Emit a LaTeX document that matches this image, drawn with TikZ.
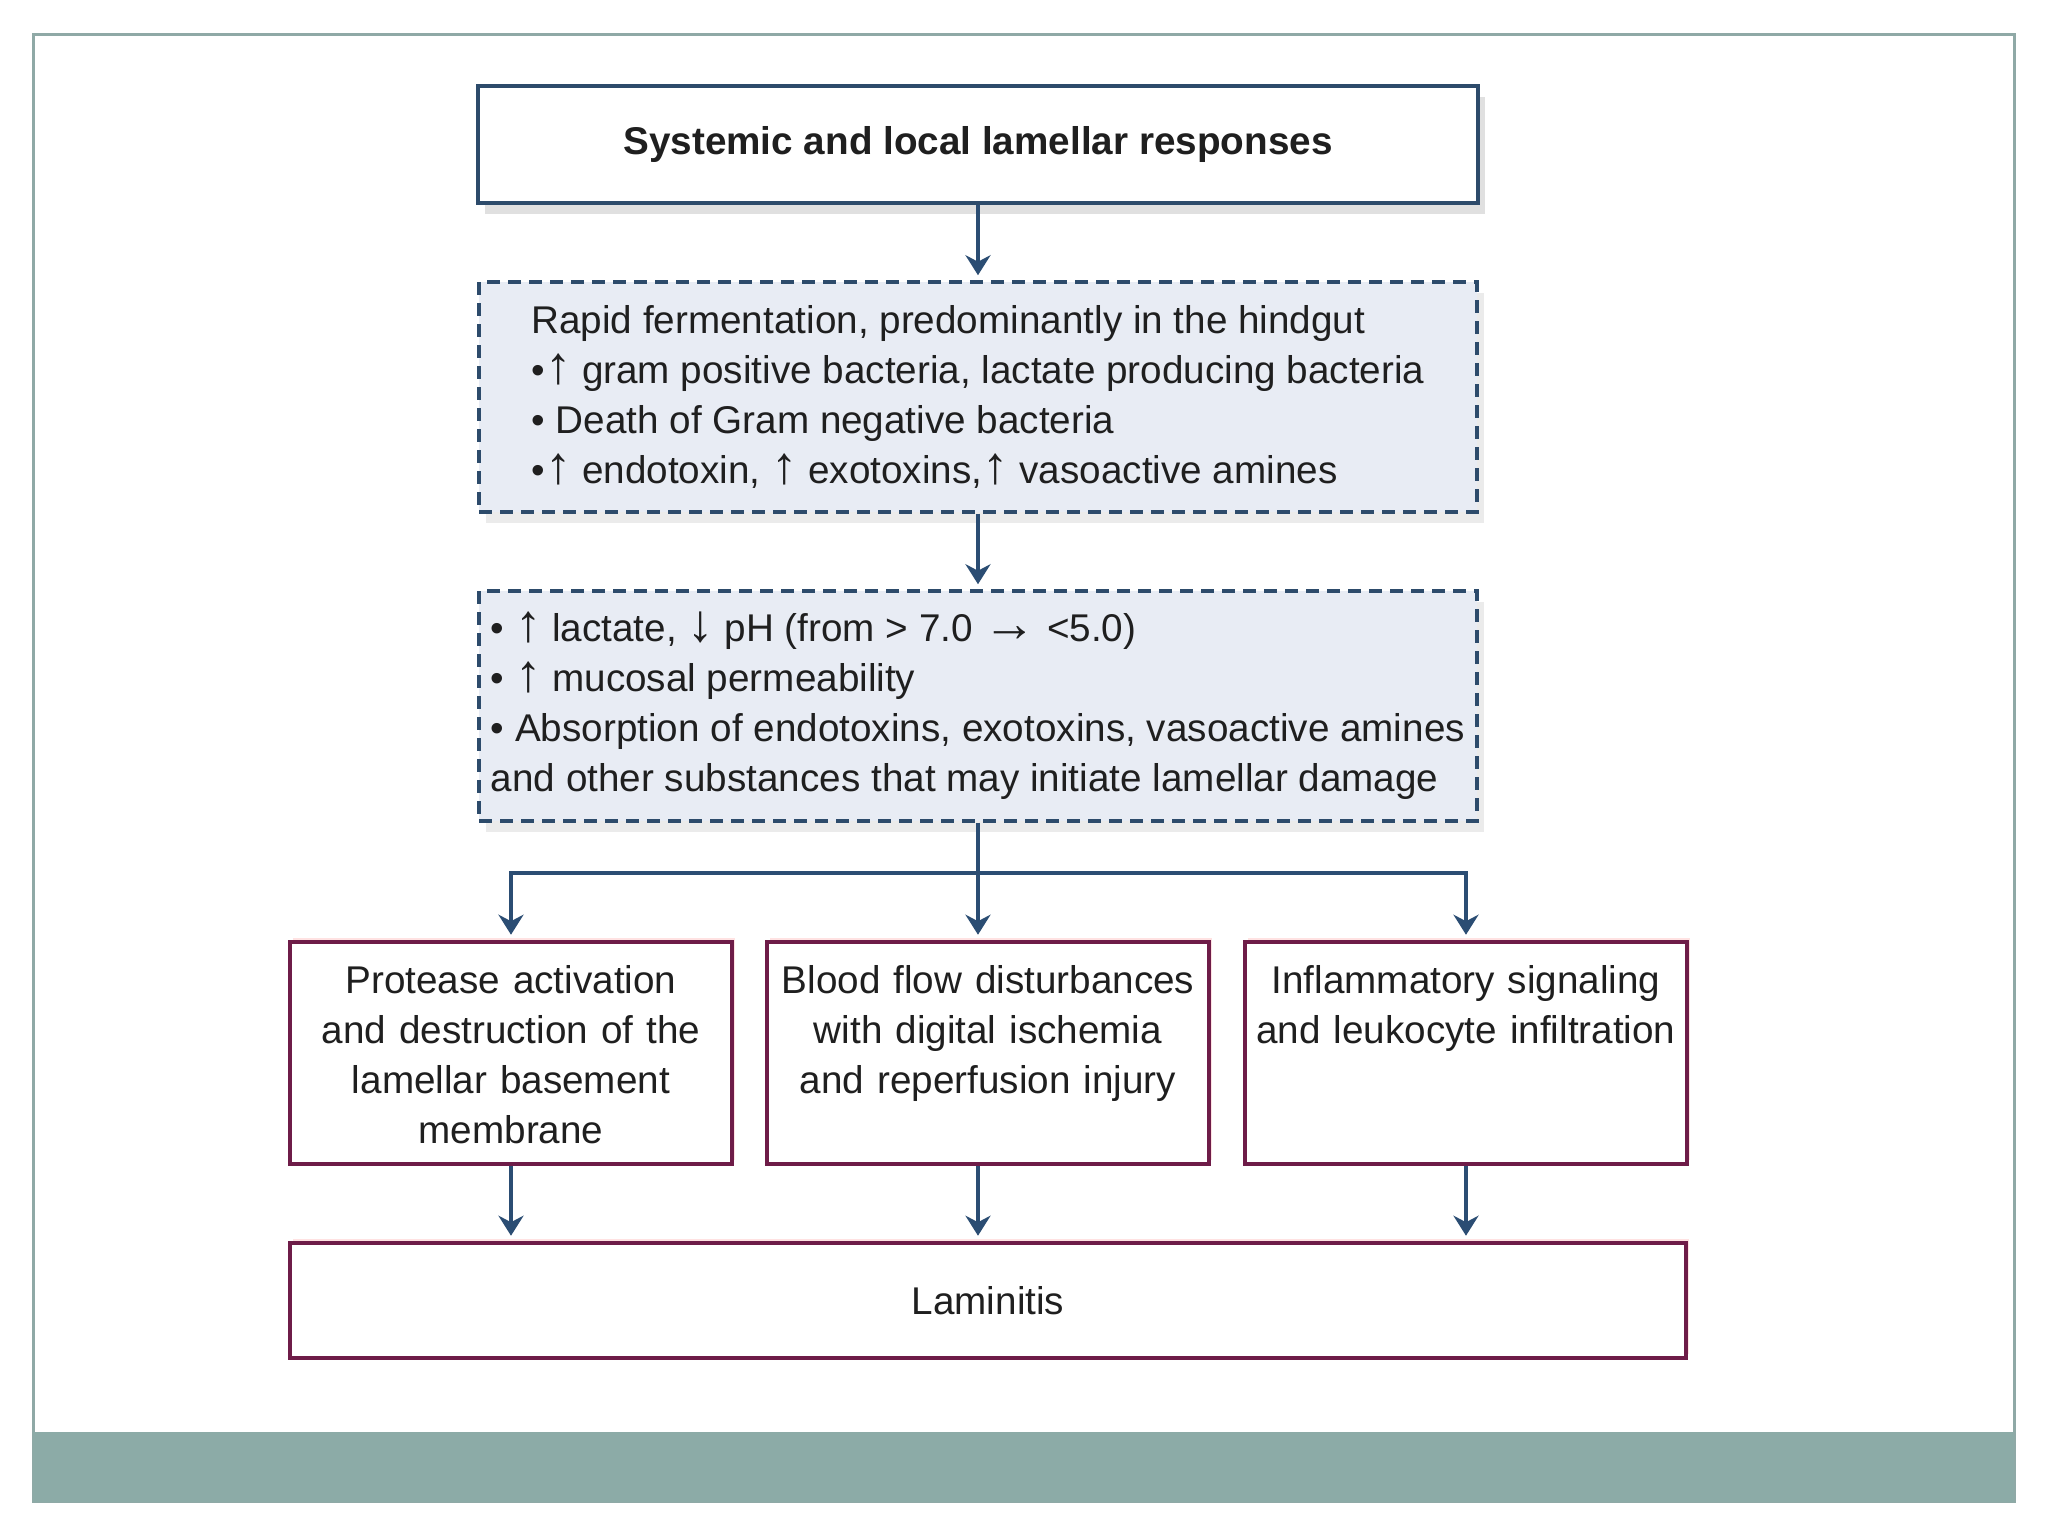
\documentclass[tikz,border=0pt]{standalone}
\usepackage{fontspec}
\setmainfont{Liberation Sans}
\usetikzlibrary{shapes.geometric, arrows.meta, shadows}
\definecolor{boxblue}{HTML}{2D4B6B}
\definecolor{arrowblue}{HTML}{2B4D73}
\definecolor{dashfill}{HTML}{E8ECF4}
\definecolor{effectred}{HTML}{6E1C48}
\definecolor{framegray}{HTML}{8FA9A6}
\definecolor{bandteal}{HTML}{8CABA7}
\definecolor{txt}{HTML}{1F1F1F}
\newcommand{\boxfont}{\fontsize{11}{14.23}\selectfont}
\newcommand{\up}{{\fontsize{15}{14.23}\selectfont ↑}}
\newcommand{\down}{{\fontsize{15}{14.23}\selectfont ↓}}
\newcommand{\goesto}{{\fontsize{15}{14.23}\selectfont →}}
\tikzstyle{headbox} = [rectangle, 
minimum width=10.0cm, 
minimum height=1.17cm,
text centered, 
draw=boxblue, line width=0.045cm,
fill=white, text=txt,
font=\boxfont\bfseries,
drop shadow={shadow xshift=0.07cm, shadow yshift=-0.11cm, fill=black!12, opacity=1}]
\tikzstyle{dashbox} = [rectangle, 
minimum width=9.98cm, 
minimum height=2.30cm,
align=left, 
draw=boxblue, line width=0.035cm,
dash pattern=on 0.13cm off 0.08cm,
fill=dashfill, text=txt,
font=\boxfont,
drop shadow={shadow xshift=0.07cm, shadow yshift=-0.11cm, fill=black!8, opacity=1}]
\tikzstyle{effect} = [rectangle, 
minimum width=4.42cm, 
minimum height=2.22cm,
text width=4.3cm, align=center,
inner xsep=0.06cm, inner ysep=0.21cm,
text height=0.30cm, text depth=1.49cm,
draw=effectred, line width=0.045cm,
fill=white, text=txt,
font=\boxfont,
drop shadow={shadow xshift=0.03cm, shadow yshift=0.04cm, fill=pink!45, opacity=1}]
\tikzstyle{outcome} = [rectangle, 
minimum width=13.96cm, 
minimum height=1.15cm,
text centered, 
draw=effectred, line width=0.045cm,
fill=white, text=txt,
font=\boxfont,
drop shadow={shadow xshift=0.03cm, shadow yshift=0.04cm, fill=pink!45, opacity=1}]
\tikzstyle{coord} = [coordinate]
\tikzstyle{line} = [line width=0.04cm, draw=arrowblue]
\tikzstyle{arrow} = [line, -{Stealth[length=0.2cm, width=0.25cm]}, shorten >=0.05cm]

\begin{document}
\begin{tikzpicture}
		\useasboundingbox (0,0) rectangle (20.48,15.36);
		\fill [white] (0,0) rectangle (20.48,15.36);
		\draw [framegray, line width=0.03cm] (0.33,0.34) rectangle (20.14,15.01);
		\fill [bandteal] (0.33,0.34) rectangle (20.14,1.04);
		\node (resp) [headbox] at (9.78,13.915) {Systemic and local lamellar responses};
		\node (ferm) [dashbox, below of=resp, node distance=2.525cm] {Rapid fermentation, predominantly in the hindgut\\ •\up{} gram positive bacteria, lactate producing bacteria\\ • Death of Gram negative bacteria\\ •\up{} endotoxin, \up{} exotoxins,\up{} vasoactive amines};
		\node (gut) [dashbox, below of=ferm, node distance=3.09cm] {• \up{} lactate, \down{} pH (from > 7.0 \goesto{} <5.0)\\ • \up{} mucosal permeability\\ • Absorption of endotoxins, exotoxins, vasoactive amines\\ and other substances that may initiate lamellar damage};
		\node (blood) [effect, below of=gut, node distance=3.47cm, xshift=0.1cm] {Blood flow disturbances\\ with digital ischemia\\ and reperfusion injury};
		\node (prot) [effect, left of=blood, node distance=4.77cm] {Protease activation\\ and destruction of the\\ lamellar basement\\ membrane};
		\node (infl) [effect, right of=blood, node distance=4.78cm] {Inflammatory signaling\\ and leukocyte infiltration};
		\node (lam) [outcome, below of=blood, node distance=2.475cm] {Laminitis};
		\node (split) [coord, below of=gut, node distance=1.67cm] {};
		\draw [arrow] (resp) -- (ferm);
		\draw [arrow] (ferm) -- (gut);
		\draw [line] (gut) -- (split);
		\draw [arrow] (split) -| (prot);
		\draw [arrow] (split) -- (split |- blood.north);
		\draw [arrow] (split) -| (infl);
		\draw [arrow] (prot) -- (prot |- lam.north);
		\draw [arrow] (split |- blood.south) -- (split |- lam.north);
		\draw [arrow] (infl) -- (infl |- lam.north);
	\end{tikzpicture}
\end{document}
